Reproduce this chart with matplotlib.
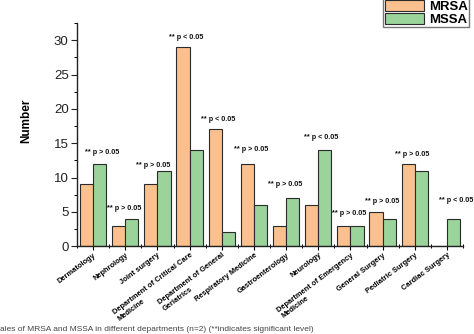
import numpy as np
import matplotlib
matplotlib.use("Agg")
import matplotlib.pyplot as plt
from matplotlib.ticker import MultipleLocator, FixedLocator
from matplotlib.transforms import ScaledTranslation

plt.rcParams['font.family'] = ['Liberation Sans', 'DejaVu Sans']

departments = [
    "Dermatology", "Nephrology", "Joint surgery",
    "Department of Critical Care\nMedicine",
    "Department of General\nGeriatrics",
    "Respiratory Medicine", "Gastroenterology", "Neurology",
    "Department of Emergency\nMedicine",
    "General Surgery", "Pediatric Surgery", "Cardiac Surgery",
]
mrsa = [9, 3, 9, 29, 17, 12, 3, 6, 3, 5, 12, 0]
mssa = [12, 4, 11, 14, 2, 6, 7, 14, 3, 4, 11, 4]
p_text = ["** p > 0.05", "** p > 0.05", "** p > 0.05", "** p < 0.05",
          "** p < 0.05", "** p > 0.05", "** p > 0.05", "** p < 0.05",
          "** p > 0.05", "** p > 0.05", "** p > 0.05", "** p < 0.05"]
# where the significance notes sit (x offset from group centre, height)
p_dx = [0.29, -0.02, -0.13, -0.1, -0.11, -0.08, -0.04, 0.1, -0.03, -0.03, -0.07, 0.3]
p_y = [13.6, 5.5, 11.8, 30.4, 18.5, 14.1, 9.0, 15.9, 4.8, 6.55, 13.4, 6.6]

c_mrsa = "#fbc08e"
c_mssa = "#9ad49a"
edge = "#2b2b2b"

fig = plt.figure(figsize=(4.74, 3.34), dpi=100)
ax = fig.add_axes([0.1624, 0.263, 0.8146, 0.668])

x = np.arange(len(departments))
w = 0.41
b1 = ax.bar(x - w / 2, mrsa, w, color=c_mrsa, edgecolor=edge, linewidth=0.8, label="MRSA")
b2 = ax.bar(x + w / 2, mssa, w, color=c_mssa, edgecolor=edge, linewidth=0.8, label="MSSA")

for i in range(len(departments)):
    ax.text(x[i] + p_dx[i], p_y[i], p_text[i], ha="center", va="center",
            fontsize=5.2, fontweight="bold", color="#111")

ax.set_xlim(-0.5, len(departments) - 0.5)
ax.set_ylim(0, 32.5)
ax.yaxis.set_major_locator(MultipleLocator(5))
ax.yaxis.set_minor_locator(MultipleLocator(2.5))
ax.set_xticks(x)
ax.set_xticklabels(departments, rotation=37, ha="right", rotation_mode="anchor",
                   fontsize=5.4, fontweight="bold", multialignment="left")
ax.xaxis.set_minor_locator(FixedLocator(np.arange(-0.5, len(departments), 1.0)))
shift = ScaledTranslation(4 / 72, 0, fig.dpi_scale_trans)
for lab in ax.get_xticklabels():
    lab.set_transform(lab.get_transform() + shift)

ax.tick_params(axis="y", which="major", direction="out", length=4, width=0.8,
               labelsize=9.5, pad=2, colors="#222")
ax.tick_params(axis="y", which="minor", direction="out", length=2, width=0.7)
ax.tick_params(axis="x", which="major", direction="out", length=3, width=0.8, pad=1)
ax.tick_params(axis="x", which="minor", direction="inout", length=3, width=0.7)

for s in ("top", "right"):
    ax.spines[s].set_visible(False)
for s in ("left", "bottom"):
    ax.spines[s].set_linewidth(1.0)
    ax.spines[s].set_color("#222")

ax.set_ylabel("Number", fontsize=8.5, fontweight="bold", labelpad=12)
ax.yaxis.set_label_coords(-0.115, 0.56)

leg = fig.legend(handles=[b1, b2], loc="lower right",
                 bbox_to_anchor=(469 / 474, 1 - 27 / 334),
                 prop={"weight": "bold", "size": 9.5}, frameon=True,
                 fancybox=False, edgecolor="#555", handlelength=3.0,
                 handleheight=0.9, handletextpad=0.35, borderpad=0.1,
                 labelspacing=0.0, borderaxespad=0)
leg.get_frame().set_linewidth(1.0)

fig.text(0.0, 0.004, "ales of MRSA and MSSA in different departments (n=2) (**indicates significant level)",
         fontsize=6, color="#444", ha="left", va="bottom")

fig.savefig("out.png", dpi=100)
